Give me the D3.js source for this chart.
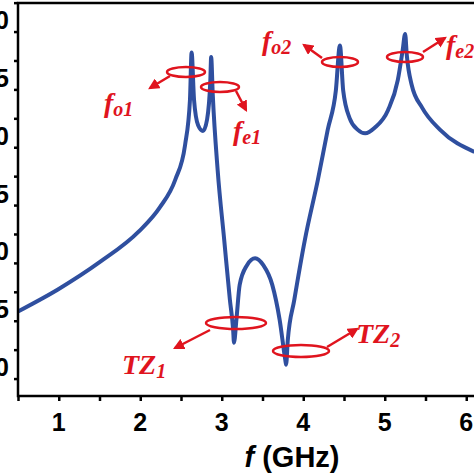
<!DOCTYPE html><html><head><meta charset="utf-8">
<script src="https://cdn.jsdelivr.net/npm/d3@7"></script>
<style>body{margin:0;background:#fff}</style></head><body>
<svg id="c" width="474" height="474"></svg>
<script>
const freq=[0.5,0.99,1.51,1.98,2.24,2.43,2.55,2.61,2.63,2.66,2.71,2.77,2.82,2.86,2.87,2.89,2.95,3.03,3.10,3.14,3.15,3.18,3.22,3.31,3.41,3.51,3.62,3.71,3.78,3.79,3.81,3.89,4.02,4.18,4.30,4.40,4.45,4.49,4.57,4.67,4.76,4.88,5.04,5.16,5.22,5.25,5.27,5.33,5.46,5.68,6.10];
const s21=[-25.2,-23.3,-20.9,-18.3,-16.2,-13.8,-10.8,-6.9,-2.8,-6.9,-9.1,-9.6,-8.6,-5.2,-3.2,-6.5,-13.0,-19.0,-24.2,-26.8,-27.9,-25.9,-22.9,-21.2,-20.6,-21.2,-22.9,-25.9,-29.4,-29.8,-27.7,-24.2,-19.0,-13.8,-9.5,-6.1,-2.2,-6.1,-8.5,-9.5,-9.8,-9.3,-7.8,-5.2,-2.6,-1.2,-3.0,-5.6,-7.6,-9.5,-11.4];
const xTicks=[1,2,3,4,5,6];
const yTicks=[0,-5,-10,-15,-20,-25,-30];
const svg=d3.select("#c");
const L=18,T=3,B=396,R=520;
const x=d3.scaleLinear().domain([0.5,0.5+(R-L)/81.5]).range([L,R]);
const y=d3.scaleLinear().domain([0,-30]).range([20,367]);
svg.append("defs").append("clipPath").attr("id","cp").append("rect").attr("x",L).attr("y",T).attr("width",R-L).attr("height",B-T);
const line=d3.line().x((d,i)=>x(freq[i])).y(d=>y(d)).curve(d3.curveMonotoneX);
svg.append("path").attr("clip-path","url(#cp)").attr("d",line(s21)).attr("fill","none").attr("stroke","#2f4f9f").attr("stroke-width",4);
svg.append("rect").attr("x",L).attr("y",T).attr("width",R-L).attr("height",B-T).attr("fill","none").attr("stroke","#000").attr("stroke-width",2.5);
const xa=svg.append("g").attr("transform",`translate(0,${B})`);
xa.call(d3.axisBottom(x).tickValues(d3.range(0.5,6.6,0.5)).tickSize(5).tickFormat(""));
xa.call(g=>{g.select(".domain").remove();g.selectAll("line").attr("stroke-width",2.5).attr("y1",-1);});
svg.selectAll(".xl").data(xTicks).enter().append("text").attr("x",d=>x(d)).attr("y",431).attr("text-anchor","middle").attr("font-family","Liberation Sans").attr("font-weight","bold").attr("font-size",25).text(d=>d);
const ya=svg.append("g").attr("transform",`translate(${L},0)`);
ya.call(d3.axisLeft(y).tickValues(d3.range(1.5,-32.6,-2.5).map(v=>Math.round(v*10)/10)).tickSize(5).tickFormat(""));
ya.call(g=>{g.select(".domain").remove();g.selectAll("line").attr("stroke-width",2.5);});
ya.selectAll(".tick line").attr("x2",d=>yTicks.includes(d)?-6:-4);
svg.selectAll(".yl").data(yTicks).enter().append("text").attr("x",9).attr("y",d=>y(d)+9).attr("text-anchor","end").attr("font-family","Liberation Sans").attr("font-weight","bold").attr("font-size",25).text(d=>d);
const t=svg.append("text").attr("x",292).attr("y",467).attr("text-anchor","middle").attr("font-family","Liberation Sans").attr("font-weight","bold").attr("font-size",29);
t.append("tspan").attr("font-style","italic").text("f");t.append("tspan").text(" (GHz)");
const red="#e0141e";
svg.append("defs").append("marker").attr("id","ar").attr("viewBox","0 0 10 10").attr("refX",8).attr("refY",5).attr("markerWidth",4.5).attr("markerHeight",4.5).attr("orient","auto").append("path").attr("d","M0,0L10,5L0,10z").attr("fill",red);
const ann=[
 {cx:186,cy:72,rx:19,ry:5,a:[170,76,150,88],tx:104,ty:112,m:"f",s:"o1"},
 {cx:220,cy:87,rx:19,ry:5,a:[236,91,246,110],tx:233,ty:140,m:"f",s:"e1"},
 {cx:340,cy:62,rx:18,ry:5,a:[322,58,304,45],tx:262,ty:50,m:"f",s:"o2"},
 {cx:405,cy:57,rx:18,ry:5,a:[423,52,445,38],tx:446,ty:54,m:"f",s:"e2"},
 {cx:236,cy:323,rx:30,ry:6,a:[210,330,175,348],tx:122,ty:374,m:"TZ",s:"1"},
 {cx:301,cy:351,rx:28,ry:6,a:[327,347,357,329],tx:356,ty:343,m:"TZ",s:"2"}];
ann.forEach(d=>{
 svg.append("ellipse").attr("cx",d.cx).attr("cy",d.cy).attr("rx",d.rx).attr("ry",d.ry).attr("fill","none").attr("stroke",red).attr("stroke-width",2.5);
 svg.append("line").attr("x1",d.a[0]).attr("y1",d.a[1]).attr("x2",d.a[2]).attr("y2",d.a[3]).attr("stroke",red).attr("stroke-width",2.5).attr("marker-end","url(#ar)");
 const tt=svg.append("text").attr("x",d.tx).attr("y",d.ty).attr("fill",red).attr("font-family","Liberation Serif").attr("font-style","italic").attr("font-weight","bold").attr("font-size",28);
 tt.append("tspan").text(d.m);
 tt.append("tspan").attr("font-size",20).attr("dy",4).text(d.s);
});
</script></body></html>
